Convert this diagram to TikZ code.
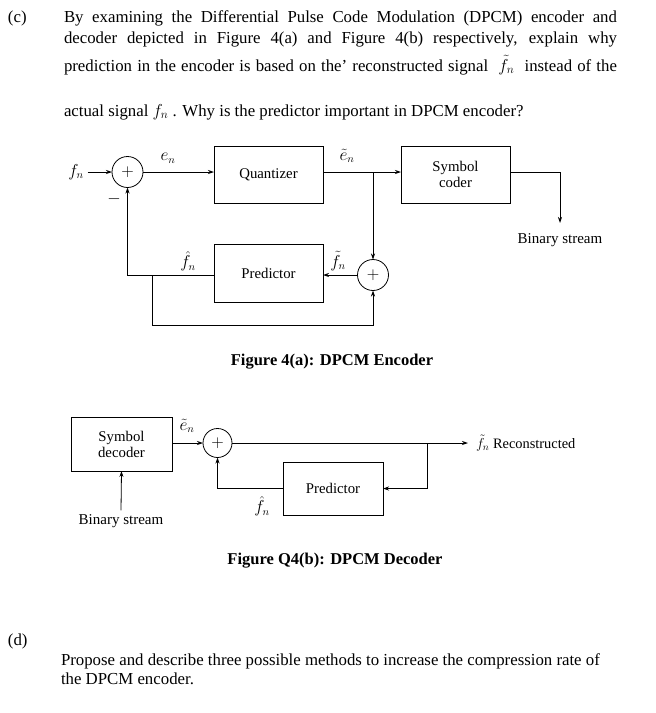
\documentclass[tikz,border=0pt]{standalone}
\usepackage{fontspec}
\setmainfont{Liberation Serif}
\usetikzlibrary{arrows.meta}
\begin{document}
\begin{tikzpicture}[x=1pt,y=-1pt,
  every node/.style={inner sep=0pt, outer sep=0pt},
  txt/.style={font=\fontsize{16.8}{20}\selectfont, anchor=base west},
  blk/.style={draw, line width=0.8pt, font=\fontsize{14.8}{16}\selectfont, align=center},
  sumc/.style={draw, circle, line width=0.8pt, minimum size=31pt, font=\fontsize{16}{16}\selectfont},
  lbl/.style={font=\fontsize{15}{16}\selectfont},
  mlbl/.style={font=\fontsize{16}{16}\selectfont},
  ln/.style={line width=0.8pt},
  arr/.style={line width=0.8pt, -{Stealth[length=6pt,width=4pt]}},
  figcap/.style={font=\fontsize{16.5}{18}\selectfont\bfseries}
]
\useasboundingbox (0,0) rectangle (656,713);
% question text
\node[txt] (c) at (8,22) {(c)};
\node[txt] (l1) at (64,22) {\makebox[553pt][s]{By examining the Differential Pulse Code Modulation (DPCM) encoder and}};
\node[txt] (l2) at (64,43) {\makebox[553pt][s]{decoder depicted in Figure 4(a) and Figure 4(b) respectively, explain why}};
\node[txt] (l3) at (64,71) {\makebox[553pt][s]{prediction in the encoder is based on the\textquoteright{} reconstructed signal \ $\tilde{f}_n$ \ instead of the}};
\node[txt] (l4) at (64,116) {actual signal $f_n$ . Why is the predictor important in DPCM encoder?};

% encoder
\node[mlbl] (fn) at (76,172) {$f_n$};
\node[sumc] (s1) at (127.5,172) {$+$};
\node[blk, minimum width=109pt, minimum height=57pt] (q) at (268.5,174.5) {Quantizer};
\node[blk, minimum width=109pt, minimum height=57pt] (sc) at (455.5,174.5) {Symbol\\coder};
\node[blk, minimum width=109pt, minimum height=58pt] (p) at (268.5,273) {Predictor};
\node[sumc] (s2) at (373,275) {$+$};
\coordinate (j1) at (373,172);
\coordinate (b1) at (152,275);
\coordinate (b2) at (152,325);
\coordinate (bse) at (560,223);
\node[lbl] (bs) at (560,240) {Binary stream};
\node[mlbl] (en) at (168,158) {$e_n$};
\node[mlbl] (etn) at (347,156) {$\tilde{e}_n$};
\node[mlbl] (fhn) at (188,261) {$\hat{f}_n$};
\node[mlbl] (ftn) at (338,261) {$\tilde{f}_n$};
\node[mlbl] (minus) at (114,199) {$-$};

\draw[arr] (fn.east) ++(4,0) -- (s1.west);
\draw[arr] (s1.east) -- (s1.east -| q.west);
\draw[ln] (q.east |- j1) -- (j1);
\draw[arr] (j1) -- (j1 -| sc.west);
\draw[arr] (j1) -- (s2.north);
\draw[arr] (s2.west) -- (s2.west -| p.east);
\draw[arr] (p.west |- s2) -| (s1.south);
\draw[arr] (b1) -- (b2) -| (s2.south);
\draw[arr] (sc.east |- j1) -| (bse);

\node[figcap] (cap1) at (332,362) {Figure 4(a): DPCM Encoder};

% decoder
\node[blk, minimum width=101pt, minimum height=54pt] (sd) at (121.5,444) {Symbol\\decoder};
\node[sumc, minimum size=29pt] (s3) at (217.5,443) {$+$};
\node[blk, minimum width=100pt, minimum height=53pt] (p2) at (333,488.5) {Predictor};
\coordinate (j2) at (427,443);
\coordinate (out) at (468,443);
\node[lbl] (bs2) at (121,521) {Binary stream};
\node[mlbl] (etn2) at (187,426) {$\tilde{e}_n$};
\node[mlbl] (fhn2) at (262,506) {$\hat{f}_n$};
\node[lbl, anchor=west, font=\fontsize{14.4}{16}\selectfont] (rec) at (476,443) {$\tilde{f}_n$ Reconstructed};

\draw[arr] (sd.east |- s3) -- (s3.west);
\draw[ln] (s3.east) -- (j2);
\draw[arr] (j2) -- (out);
\draw[arr] (j2) |- (p2.east);
\draw[arr] (p2.west) -| (s3.south);
\draw[arr] (bs2.north) ++(0,-4) -- (sd.south);

\node[figcap] (cap2) at (335,561) {Figure Q4(b): DPCM Decoder};

% (d)
\node[txt] (d) at (8,645) {(d)};
\node[txt] (m1) at (61,665) {Propose and describe three possible methods to increase the compression rate of};
\node[txt] (m2) at (61,684) {the DPCM encoder.};
\end{tikzpicture}
\end{document}
